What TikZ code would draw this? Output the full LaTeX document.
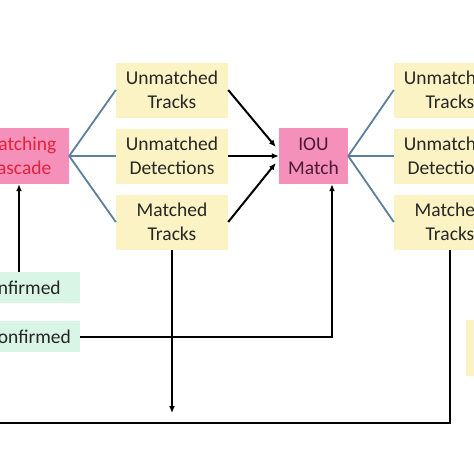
\documentclass[tikz,border=0pt]{standalone}
\usepackage{fontspec}
\setmainfont{Carlito}
\usetikzlibrary{arrows.meta}
\definecolor{boxyellow}{HTML}{FCF3C4}
\definecolor{boxpink}{HTML}{F490BA}
\definecolor{boxgreen}{HTML}{D9F5E6}
\definecolor{linkblue}{HTML}{5D7F9E}
\definecolor{casred}{HTML}{E3223A}
\definecolor{ioutext}{HTML}{4A1A38}
\tikzset{
	stagebox/.style={fill=boxyellow, text=black!85, minimum width=112pt, minimum height=55pt, align=center, inner sep=0pt},
	matchbox/.style={fill=boxpink, minimum height=56pt, align=center, inner sep=0pt},
	statebox/.style={fill=boxgreen, text=black!85, minimum width=122pt, minimum height=31pt, inner sep=0pt},
	link/.style={linkblue, line width=1.8pt},
	flow/.style={black, line width=2pt, -{Latex[length=7pt, width=6pt]}},
	plain/.style={black, line width=2pt}
}
\begin{document}
	\begin{tikzpicture}[x=1pt, y=-1pt, font=\fontsize{19.5}{23.5}\selectfont]
		\useasboundingbox (0,0) rectangle (474,474);
		\clip (0,0) rectangle (474,474);
		% matching stages
		\node[matchbox, text=casred, minimum width=100pt] (cascade) at (19,156) {Matching\\Cascade};
		\node[matchbox, text=ioutext, minimum width=69pt] (iou) at (313.5,156) {IOU\\Match};
		% first results
		\node[stagebox] (ut) at (172,90) {Unmatched\\Tracks};
		\node[stagebox] (ud) at (172,156) {Unmatched\\Detections};
		\node[stagebox] (mt) at (172,222) {Matched\\Tracks};
		% second results
		\node[stagebox] (utb) at (450,90) {Unmatched\\Tracks};
		\node[stagebox] (udb) at (450,156) {Unmatched\\Detections};
		\node[stagebox] (mtb) at (450,222) {Matched\\Tracks};
		\node[stagebox, minimum height=56pt] (nextb) at (522,348) {};
		% track states
		\node[statebox] (conf) at (19,287.5) {Confirmed};
		\node[statebox] (unconf) at (19,336.5) {Unconfirmed};
		\coordinate (mtend) at (172,413);
		\coordinate (loopend) at (-20,423);

		\foreach \n in {ut, ud, mt}
			\draw[link] (cascade.east) -- (\n.west);
		\foreach \n in {utb, udb, mtb}
			\draw[link] (iou.east) -- (\n.west);
		\draw[flow] (ut.east) -- ([xshift=-3pt, yshift=9pt]iou.west);
		\draw[flow] (ud.east) -- (iou.west);
		\draw[flow] (mt.east) -- ([xshift=-3pt, yshift=-7pt]iou.west);
		\draw[flow] (conf.north) -- (cascade.south);
		\draw[flow] (unconf.east) -| ([xshift=18.5pt]iou.south);
		\draw[flow] (mt.south) -- (mtend);
		\draw[plain] (loopend) -| (mtb.south);
	\end{tikzpicture}
\end{document}
